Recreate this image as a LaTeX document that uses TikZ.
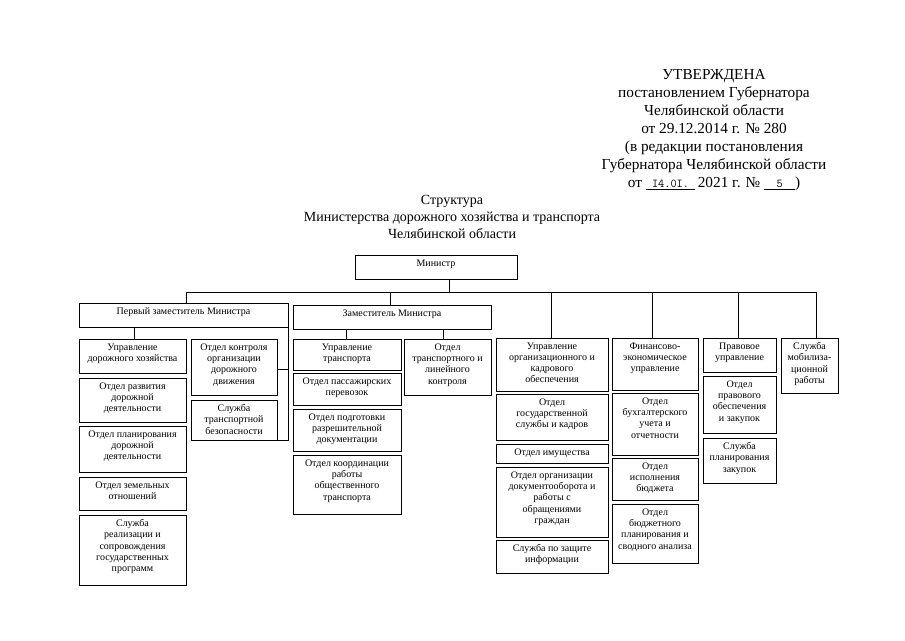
\documentclass[tikz,border=0pt]{standalone}
\usepackage{fontspec}
\setmainfont{Liberation Serif}
\tikzset{box/.style={draw,line width=0.9pt,align=center,inner sep=0pt,font=\fontsize{10}{11.3}\selectfont},
 ln/.style={line width=0.8pt},
 hdr/.style={align=center,font=\fontsize{15.3}{18}\selectfont}}
\newcommand{\bx}[6]{\node[box,minimum width={#4-#2},minimum height={#5-#3}] (#1) at ({(#2+#4)/2},{(#3+#5)/2}) {\parbox[c][\dimexpr #5pt-#3pt-3pt\relax][t]{\dimexpr #4pt-#2pt-2pt\relax}{\vspace*{3pt}\centering #6\par}};}
\begin{document}
\begin{tikzpicture}[x=1pt,y=-1pt]
\useasboundingbox[fill=white] (0,0) rectangle (905,640);
\node[hdr] (appr) at (714,130) {УТВЕРЖДЕНА\\постановлением Губернатора\\Челябинской области\\от 29.12.2014 г. № 280\\(в редакции постановления\\Губернатора Челябинской области\\от \underline{\texttt{\large\ I4.0I.\ }}\,2021 г. № \underline{\texttt{\large\ \ 5\ \ }})};
\node[hdr,font=\fontsize{14}{17}\selectfont] (title) at (452,217) {Структура\\Министерства дорожного хозяйства и транспорта\\Челябинской области};
\bx{min}{355}{255}{517}{279}{Министр}
\bx{fz}{79}{303}{288}{327}{Первый заместитель Министра}
\bx{z}{293}{305}{491}{329}{Заместитель Министра}
\bx{udh}{79}{339}{186}{373}{Управление\\дорожного хозяйства}
\bx{orr}{79}{378}{186}{422}{Отдел развития\\дорожной\\деятельности}
\bx{opl}{79}{426}{186}{472}{Отдел планирования\\дорожной\\деятельности}
\bx{oze}{79}{477}{186}{510}{Отдел земельных\\отношений}
\bx{srs}{79}{515}{186}{585}{Служба\\реализации и\\сопровождения\\государственных\\программ}
\bx{okd}{191}{339}{277}{395}{Отдел контроля\\организации\\дорожного\\движения}
\bx{stb}{191}{400}{277}{440}{Служба\\транспортной\\безопасности}
\bx{ut}{293}{339}{401}{370}{Управление\\транспорта}
\bx{opp}{293}{373}{401}{405}{Отдел пассажирских\\перевозок}
\bx{opr}{293}{409}{401}{451}{Отдел подготовки\\разрешительной\\документации}
\bx{oko}{293}{455}{401}{514}{Отдел координации\\работы\\общественного\\транспорта}
\bx{otl}{404}{339}{491}{395}{Отдел\\транспортного и\\линейного\\контроля}
\bx{uok}{496}{338}{608}{391}{Управление\\организационного и\\кадрового\\обеспечения}
\bx{ogs}{496}{394}{608}{440}{Отдел\\государственной\\службы и кадров}
\bx{oim}{496}{444}{608}{463}{Отдел имущества}
\bx{ood}{496}{467}{608}{537}{Отдел организации\\документооборота и\\работы с\\обращениями\\граждан}
\bx{szi}{496}{540}{608}{573}{Служба по защите\\информации}
\bx{feu}{612}{338}{698}{390}{Финансово-\\экономическое\\управление}
\bx{obu}{612}{393}{698}{455}{Отдел\\бухгалтерского\\учета и\\отчетности}
\bx{oib}{612}{458}{698}{500}{Отдел\\исполнения\\бюджета}
\bx{obp}{612}{504}{698}{563}{Отдел\\бюджетного\\планирования и\\сводного анализа}
\bx{pu}{703}{338}{776}{372}{Правовое\\управление}
\bx{opo}{703}{376}{776}{433}{Отдел\\правового\\обеспечения\\и закупок}
\bx{spz}{703}{438}{776}{483}{Служба\\планирования\\закупок}
\bx{smr}{781}{338}{838}{393}{Служба\\мобилиза-\\ционной\\работы}
\coordinate (busL) at (186,292);
\coordinate (busR) at (816,292);
\draw[ln] (min.south-|449,0) -- (449,292);
\draw[ln] (busL) -- (busR);
\draw[ln] (busL) -- (busL|-fz.north);
\draw[ln] (390,292) -- (z.north-|390,0);
\draw[ln] (551,292) -- (uok.north-|551,0);
\draw[ln] (652,292) -- (feu.north-|652,0);
\draw[ln] (738,292) -- (pu.north-|738,0);
\draw[ln] (busR) -- (smr.north-|busR);
\draw[ln] (fz.south-|134,0) -- (udh.north-|134,0);
\draw[ln] (fz.south east) -- (fz.south east|-stb.south) -- (stb.south east);
\draw[ln] (okd.east|-0,369) -- (fz.south east|-0,369);
\draw[ln] (z.south-|346,0) -- (ut.north-|346,0);
\draw[ln] (z.south-|443,0) -- (otl.north-|443,0);
\end{tikzpicture}
\end{document}
